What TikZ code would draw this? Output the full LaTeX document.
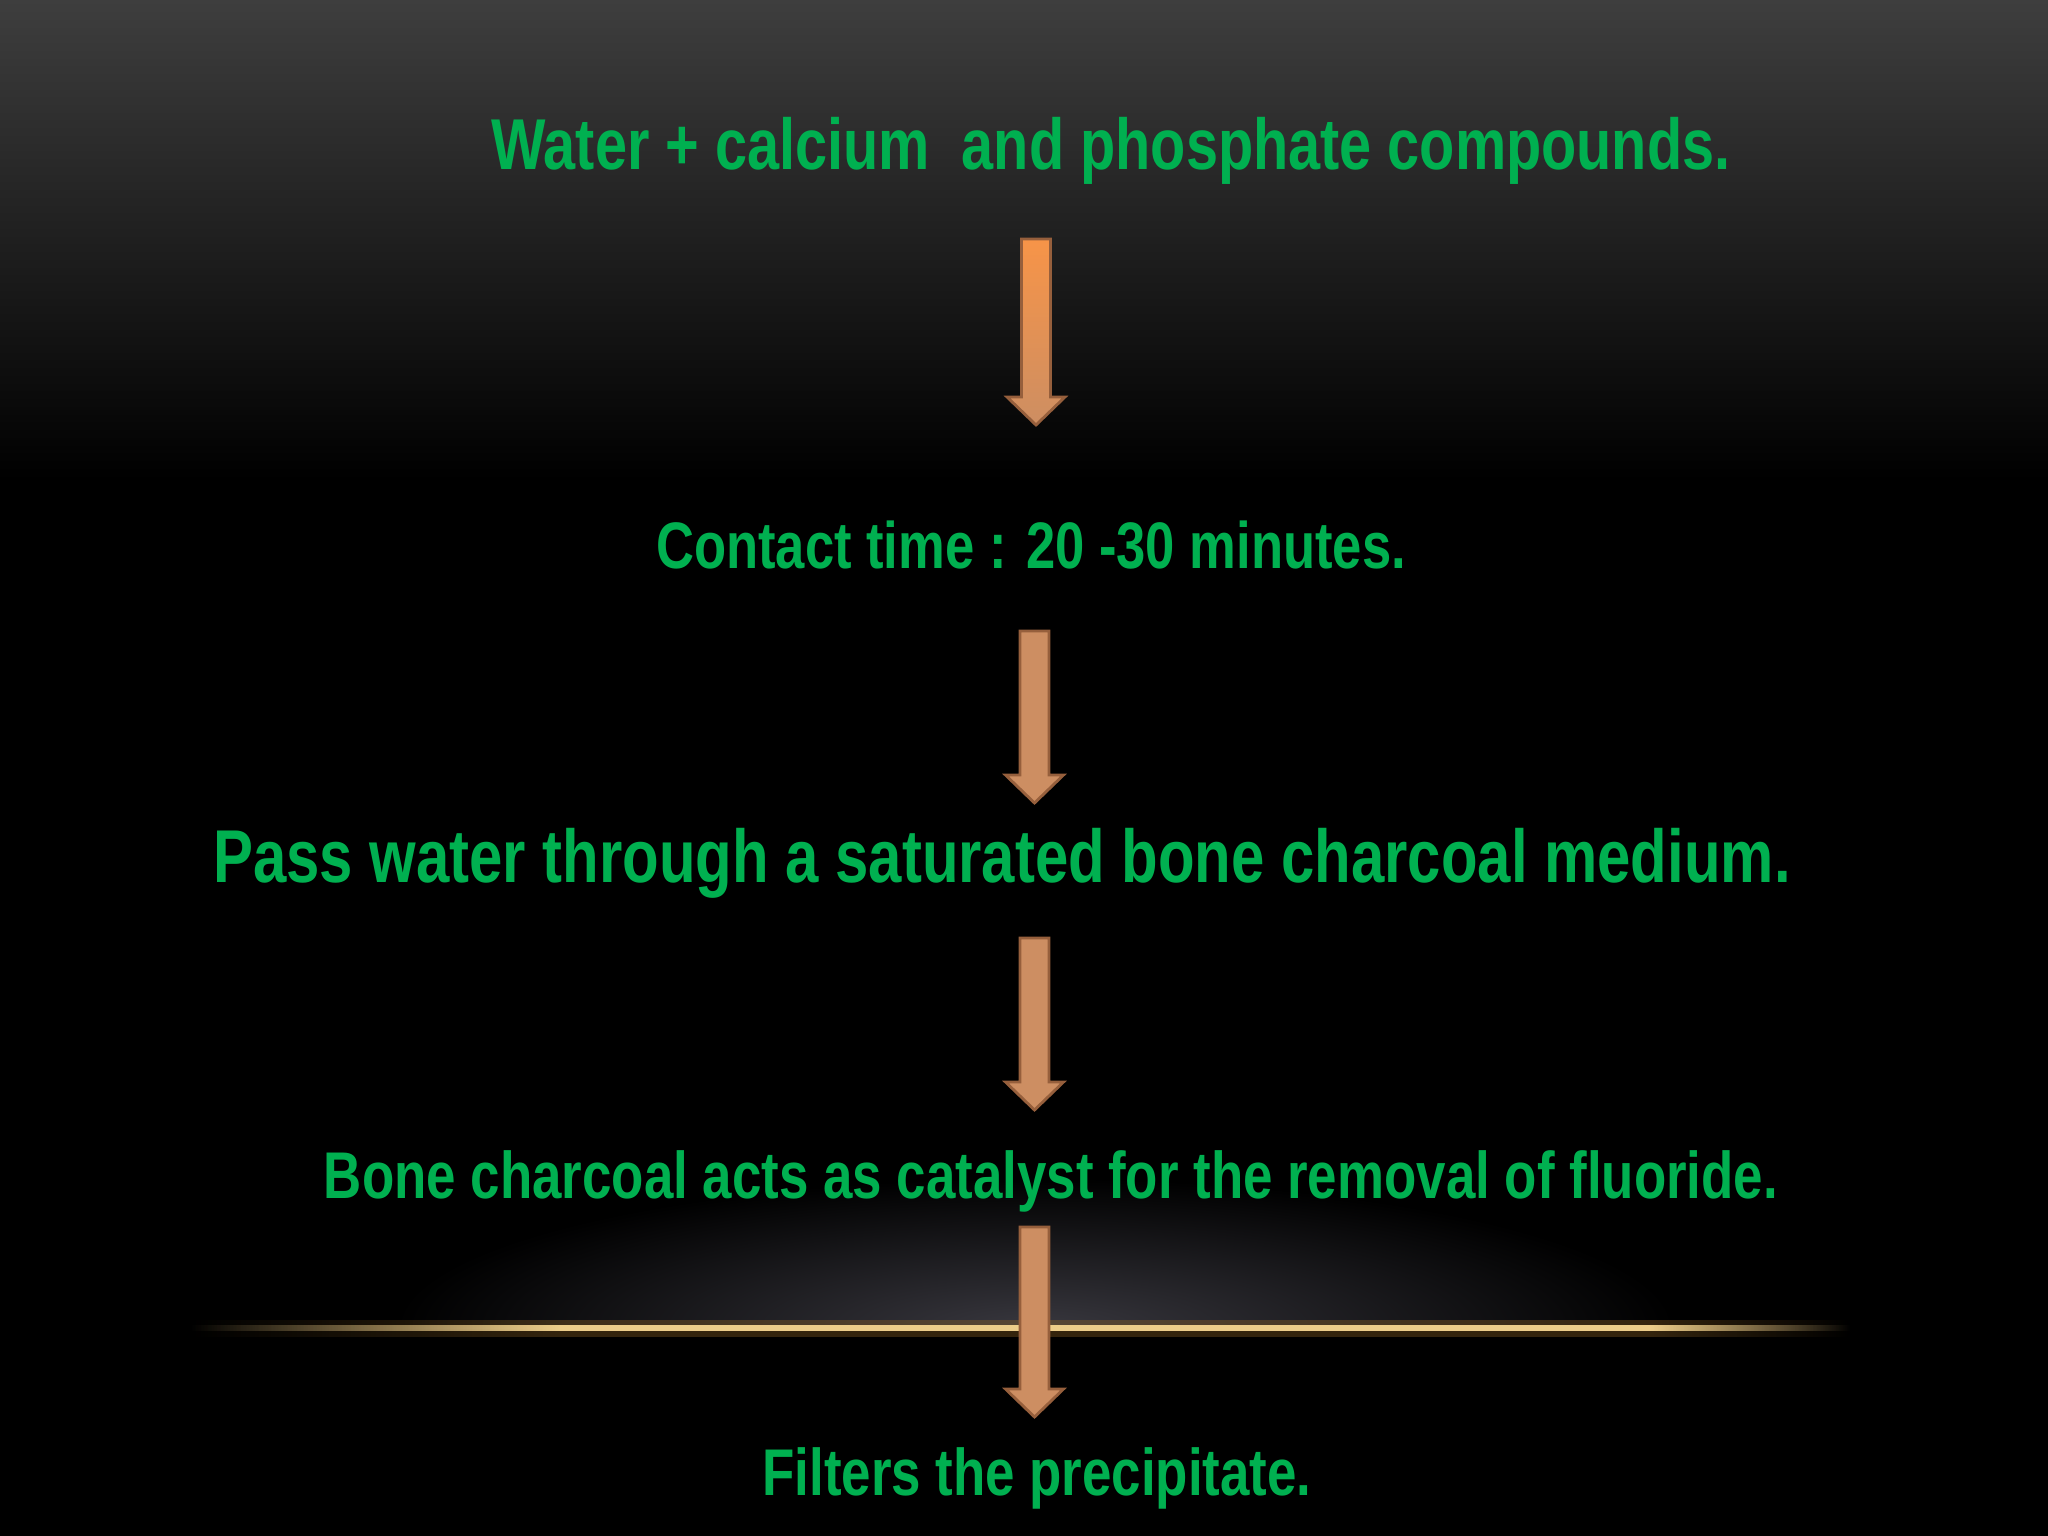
\documentclass[tikz,border=0pt]{standalone}
\usepackage{fontspec}
\setmainfont{Liberation Sans}[FakeStretch=0.8]
\usetikzlibrary{calc, fadings}
\definecolor{slide_green}{RGB}{0,176,80}
\definecolor{arrow_fill}{RGB}{205,142,98}
\definecolor{arrow_top}{RGB}{247,148,72}
\definecolor{arrow_line}{RGB}{150,95,60}
\definecolor{glow_gold}{RGB}{236,205,138}
\definecolor{glow_halo}{RGB}{150,105,40}
\definecolor{top_gray}{RGB}{62,62,62}
\definecolor{glow_gray}{RGB}{56,55,62}
\tikzfading[name=fade_in, left color=transparent!100, right color=transparent!0]
\tikzfading[name=fade_out, left color=transparent!0, right color=transparent!100]

\begin{document}
\begin{tikzpicture}[
    step_txt/.style={text=slide_green, anchor=base, inner sep=0pt,
                     font=\bfseries\fontsize{#1}{#1}\selectfont},
    flow/.style={fill=arrow_fill, draw=arrow_line, line width=0.8pt, line join=miter,
      to path={($(\tikztostart)+(-0.145,0)$) -- ($(\tikztotarget)+(-0.145,0.28)$)
        -- ($(\tikztotarget)+(-0.29,0.28)$) -- (\tikztotarget)
        -- ($(\tikztotarget)+(0.29,0.28)$) -- ($(\tikztotarget)+(0.145,0.28)$)
        -- ($(\tikztostart)+(0.145,0)$) -- cycle}}]
  % Fond
  \useasboundingbox (0,0) rectangle (20.48,-15.36);
  \fill[black] (0,0) rectangle (20.48,-15.36);
  \shade[top color=top_gray, bottom color=black] (0,0) rectangle (20.48,-4.8);
  \begin{scope}
    \clip (0,-10.5) rectangle (20.48,-13.28);
    \shade[inner color=glow_gray, outer color=black] (10.35,-13.28) ellipse (6.4 and 1.5);
  \end{scope}
  % Trait lumineux
  \fill[glow_halo, opacity=0.35, path fading=fade_in] (1.9,-13.20) rectangle (5.6,-13.37);
  \fill[glow_halo, opacity=0.35] (5.6,-13.20) rectangle (16.5,-13.37);
  \fill[glow_halo, opacity=0.35, path fading=fade_out] (16.5,-13.20) rectangle (18.5,-13.37);
  \fill[glow_gold, path fading=fade_in] (1.9,-13.25) rectangle (5.6,-13.31);
  \fill[glow_gold] (5.6,-13.25) rectangle (16.5,-13.31);
  \fill[glow_gold, path fading=fade_out] (16.5,-13.25) rectangle (18.5,-13.31);
  % Etapes
  \node[step_txt=20.5] (t1) at (11.11,-1.70) {Water + calcium\ \ and phosphate compounds.};
  \node[step_txt=18.7] (t2) at (10.31,-5.69) {Contact time : 20 -30 minutes.};
  \node[step_txt=21.3] (t3) at (10.02,-8.83) {Pass water through a saturated bone charcoal medium.};
  \node[step_txt=18.8] (t4) at (10.51,-11.98) {Bone charcoal acts as catalyst for the removal of fluoride.};
  \node[step_txt=18.8] (t5) at (10.37,-14.95) {Filters the precipitate.};
  % Fleches
  \coordinate (a1s) at (10.36,-2.39);  \coordinate (a1e) at (10.36,-4.25);
  \coordinate (a2s) at (10.345,-6.31); \coordinate (a2e) at (10.345,-8.03);
  \coordinate (a3s) at (10.345,-9.38); \coordinate (a3e) at (10.345,-11.10);
  \coordinate (a4s) at (10.345,-12.27); \coordinate (a4e) at (10.345,-14.17);
  \draw[flow, top color=arrow_top, bottom color=arrow_fill] (a1s) to (a1e);
  \draw[flow] (a2s) to (a2e);
  \draw[flow] (a3s) to (a3e);
  \draw[flow] (a4s) to (a4e);
\end{tikzpicture}
\end{document}
